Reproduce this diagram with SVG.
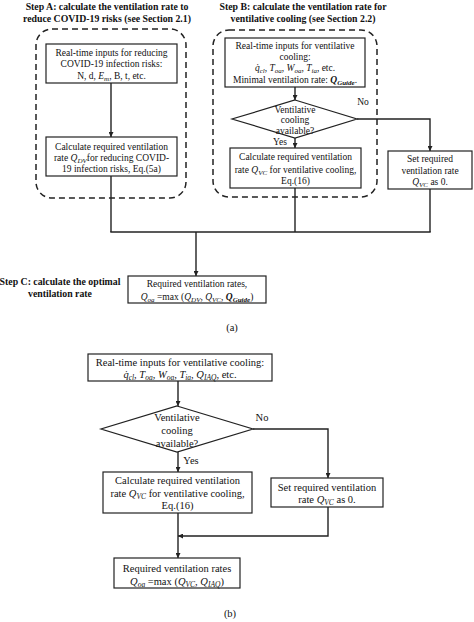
<svg xmlns="http://www.w3.org/2000/svg" width="474" height="622" viewBox="0 0 474 622">
<style>
.bg{fill:#fff}
.box{fill:#fff;stroke:#222;stroke-width:1.2}
.dash{fill:none;stroke:#222;stroke-width:1.5;stroke-dasharray:6 4}
.ln{fill:none;stroke:#222;stroke-width:1.4}
text{font-family:"Liberation Serif",serif;font-size:9.5px;text-anchor:middle;fill:#111}
.b text,text.b{font-size:10.5px}
.title{font-weight:bold;font-size:9.8px}
.i{font-style:italic}
.bi{font-style:italic;font-weight:bold}
.s{font-size:7px}
.b .s{font-size:7.5px}
</style>
<defs>
<marker id="ah" viewBox="0 0 6 6" refX="6" refY="3" markerWidth="5" markerHeight="5" markerUnits="userSpaceOnUse" orient="auto">
<path d="M0,0 L6,3 L0,6 z" fill="#222"/>
</marker>
</defs>
<rect class="bg" x="0" y="0" width="474" height="622"/>

<g id="connectors">
<line class="ln" x1="111" y1="83" x2="111" y2="137" marker-end="url(#ah)"/>
<line class="ln" x1="295" y1="87" x2="295" y2="100" marker-end="url(#ah)"/>
<line class="ln" x1="295" y1="138" x2="295" y2="148" marker-end="url(#ah)"/>
<polyline class="ln" points="357,119 430,119 430,151" marker-end="url(#ah)"/>
<line class="ln" x1="111" y1="176" x2="111" y2="232"/>
<line class="ln" x1="295" y1="188" x2="295" y2="232"/>
<line class="ln" x1="430" y1="189" x2="430" y2="232"/>
<line class="ln" x1="110.3" y1="232" x2="430.7" y2="232"/>
<line class="ln" x1="196" y1="232" x2="196" y2="276" marker-end="url(#ah)"/>

<line class="ln" x1="178" y1="381" x2="178" y2="406" marker-end="url(#ah)"/>
<line class="ln" x1="178" y1="452" x2="178" y2="472" marker-end="url(#ah)"/>
<polyline class="ln" points="253,429 328,429 328,478" marker-end="url(#ah)"/>
<polyline class="ln" points="328,507 328,536 178,536" marker-end="url(#ah)"/>
<line class="ln" x1="178" y1="513" x2="178" y2="558" marker-end="url(#ah)"/>
<text x="363" y="105">No</text>
<text x="280" y="145">Yes</text>
<text class="b" x="262" y="420.5">No</text>
<text class="b" x="191" y="463.5">Yes</text>
</g>

<g id="stepA">
<text class="title" x="107" y="10">Step A: calculate the ventilation rate to</text>
<text class="title" x="107" y="22">reduce COVID-19 risks (see Section 2.1)</text>
<rect class="dash" x="36" y="29" width="150" height="169" rx="16"/>
</g>
<g id="stepB">
<text class="title" x="303" y="10">Step B: calculate the ventilation rate for</text>
<text class="title" x="303" y="22">ventilative cooling (see Section 2.2)</text>
<rect class="dash" x="213" y="30" width="164" height="167" rx="16"/>
</g>

<g id="a1">
<rect class="box" x="46" y="44" width="131" height="39"/>
<text x="111.5" y="56">Real-time inputs for reducing</text>
<text x="111.5" y="67">COVID-19 infection risks:</text>
<text x="111.5" y="79">N, d, <tspan class="i">E</tspan><tspan class="i s" dy="2">m</tspan><tspan dy="-2">, B, t, etc.</tspan></text>
</g>

<g id="a2">
<rect class="box" x="46" y="137" width="131" height="39"/>
<text x="111.5" y="150">Calculate required ventilation</text>
<text x="111.5" y="161">rate <tspan class="i">Q</tspan><tspan class="i s" dy="2">DV</tspan><tspan dy="-2">for reducing COVID-</tspan></text>
<text x="111.5" y="172">19 infection risks, Eq.(5a)</text>
</g>

<g id="b1">
<rect class="box" x="225" y="38" width="140" height="49"/>
<text x="295" y="49">Real-time inputs for ventilative</text>
<text x="295" y="60">cooling:</text>
<text x="295" y="71"><tspan class="i">q̇</tspan><tspan class="i s" dy="2">cl</tspan><tspan dy="-2">, </tspan><tspan class="i">T</tspan><tspan class="i s" dy="2">oa</tspan><tspan dy="-2">, </tspan><tspan class="i">W</tspan><tspan class="i s" dy="2">oa</tspan><tspan dy="-2">, </tspan><tspan class="i">T</tspan><tspan class="i s" dy="2">ia</tspan><tspan dy="-2">, etc.</tspan></text>
<text x="295" y="83">Minimal ventilation rate: <tspan class="bi">Q</tspan><tspan class="bi s" dy="2">Guide</tspan><tspan dy="-2">.</tspan></text>
</g>

<g id="decisionA">
<polygon class="box" points="295,100 357,119 295,138 232,119"/>
<text x="295" y="113">Ventilative</text>
<text x="295" y="123">cooling</text>
<text x="295" y="134">available?</text>
</g>

<g id="b2">
<rect class="box" x="230" y="148" width="131" height="40"/>
<text x="295.5" y="160">Calculate required ventilation</text>
<text x="295.5" y="173">rate <tspan class="i">Q</tspan><tspan class="i s" dy="2">VC</tspan><tspan dy="-2"> for ventilative cooling,</tspan></text>
<text x="295.5" y="184">Eq.(16)</text>
</g>

<g id="setA">
<rect class="box" x="388" y="151" width="84" height="38"/>
<text x="430" y="162">Set required</text>
<text x="430" y="174">ventilation rate</text>
<text x="430" y="185"><tspan class="i">Q</tspan><tspan class="i s" dy="2">VC</tspan><tspan dy="-2"> as 0.</tspan></text>
</g>

<g id="stepC">
<text class="title" x="60" y="285">Step C: calculate the optimal</text>
<text class="title" x="60" y="297">ventilation rate</text>
<rect class="box" x="128" y="276" width="138" height="27"/>
<text x="197" y="287">Required ventilation rates,</text>
<text x="197" y="300"><tspan class="i">Q</tspan><tspan class="i s" dy="2">oa</tspan><tspan dy="-2"> =max (</tspan><tspan class="i">Q</tspan><tspan class="i s" dy="2">DV</tspan><tspan dy="-2">, </tspan><tspan class="i">Q</tspan><tspan class="i s" dy="2">VC</tspan><tspan dy="-2">, </tspan><tspan class="bi">Q</tspan><tspan class="bi s" dy="2">Guide</tspan><tspan dy="-2">)</tspan></text>
</g>

<text class="b" x="232" y="331">(a)</text>

<g id="inputsB" class="b">
<rect class="box" x="88" y="354" width="184" height="27"/>
<text x="180" y="366">Real-time inputs for ventilative cooling:</text>
<text x="180" y="378"><tspan class="i">q̇</tspan><tspan class="i s" dy="2">cl</tspan><tspan dy="-2">, </tspan><tspan class="i">T</tspan><tspan class="i s" dy="2">oa</tspan><tspan dy="-2">, </tspan><tspan class="i">W</tspan><tspan class="i s" dy="2">oa</tspan><tspan dy="-2">, </tspan><tspan class="i">T</tspan><tspan class="i s" dy="2">ia</tspan><tspan dy="-2">, </tspan><tspan class="i">Q</tspan><tspan class="i s" dy="2">IAQ</tspan><tspan dy="-2">, etc.</tspan></text>
</g>

<g id="decisionB" class="b">
<polygon class="box" points="177,406 253,429 177,452 101,429"/>
<text x="177" y="420.5">Ventilative</text>
<text x="177" y="433.5">cooling</text>
<text x="177" y="446.5">available?</text>
</g>

<g id="calcB" class="b">
<rect class="box" x="103" y="472" width="149" height="41"/>
<text x="177.5" y="483.5">Calculate required ventilation</text>
<text x="177.5" y="497">rate <tspan class="i">Q</tspan><tspan class="i s" dy="2">VC</tspan><tspan dy="-2"> for ventilative cooling,</tspan></text>
<text x="177.5" y="508.5">Eq.(16)</text>
</g>

<g id="setB" class="b">
<rect class="box" x="271" y="478" width="112" height="29"/>
<text x="327" y="490.5">Set required ventilation</text>
<text x="327" y="502.5">rate <tspan class="i">Q</tspan><tspan class="i s" dy="2">VC</tspan><tspan dy="-2"> as 0.</tspan></text>
</g>

<g id="resultB" class="b">
<rect class="box" x="114" y="558" width="126" height="30"/>
<text x="177" y="571.5">Required ventilation rates</text>
<text x="177" y="585"><tspan class="i">Q</tspan><tspan class="i s" dy="2">oa</tspan><tspan dy="-2"> =max (</tspan><tspan class="i">Q</tspan><tspan class="i s" dy="2">VC</tspan><tspan dy="-2">, </tspan><tspan class="i">Q</tspan><tspan class="i s" dy="2">IAQ</tspan><tspan dy="-2">)</tspan></text>
</g>

<text class="b" x="230" y="617">(b)</text>
</svg>
